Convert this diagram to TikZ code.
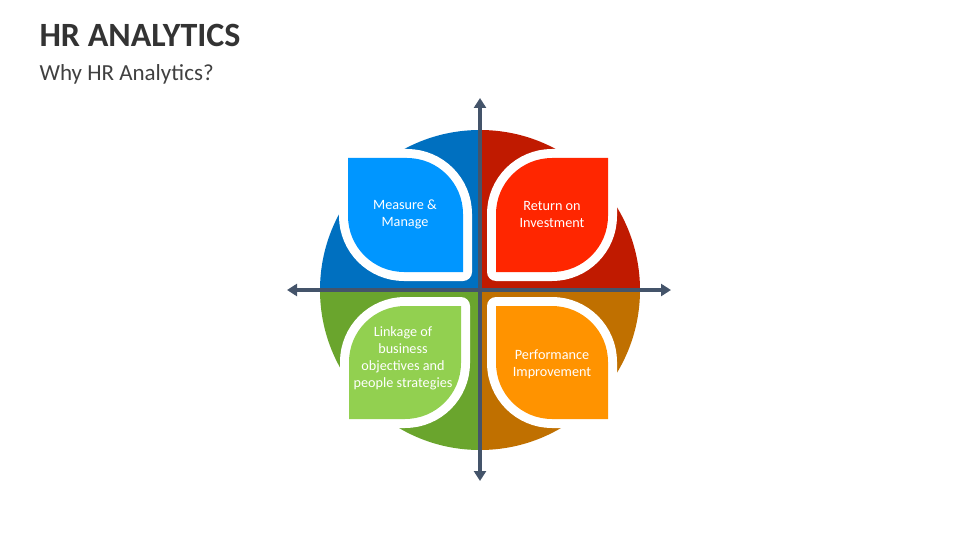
\documentclass[tikz,border=0pt]{standalone}
\usepackage{fontspec}
\setmainfont{Carlito}
\usetikzlibrary{arrows.meta}
\definecolor{bD}{HTML}{0070C0}\definecolor{bL}{HTML}{0096FF}
\definecolor{rD}{HTML}{C01A00}\definecolor{rL}{HTML}{FF2600}
\definecolor{oD}{HTML}{C07000}\definecolor{oL}{HTML}{FF9300}
\definecolor{gD}{HTML}{6AA52D}\definecolor{gL}{HTML}{92D050}
\definecolor{ax}{HTML}{44546A}
\tikzset{
 leafw/.style={draw=white,line width=18pt,line join=round},
 leaff/.style={},
 lbl/.style={text=white,font=\fontsize{14.2}{17}\selectfont,align=center},
 axis/.style={ax,line width=4pt,-{Triangle[length=10pt,width=12pt]}}}
\def\R{56}
% TR & BL rounded
\newcommand\leafA[5]{\path[#5] (#1,#2) -- ({#3-\R},#2) arc[start angle=-90,end angle=0,radius=\R] -- (#3,#4) -- ({#1+\R},#4) arc[start angle=90,end angle=180,radius=\R] -- cycle;}
% TL & BR rounded
\newcommand\leafB[5]{\path[#5] (#1,{#2+\R}) arc[start angle=180,end angle=270,radius=\R] -- (#3,#2) -- (#3,{#4-\R}) arc[start angle=0,end angle=90,radius=\R] -- (#1,#4) -- cycle;}
\begin{document}
\begin{tikzpicture}[x=1pt,y=-1pt]
\useasboundingbox (0,0) rectangle (960,540);
\node[anchor=west,font=\fontsize{34}{38}\selectfont\bfseries,text=black!80] (t) at (36,35) {HR ANALYTICS};
\node[anchor=west,font=\fontsize{23}{26}\selectfont,text=black!75] (s) at (36,74) {Why HR Analytics?};
\begin{scope}
\clip (480,290) circle (160);
\fill[bD] (300,110) rectangle (480,290);
\fill[rD] (480,110) rectangle (660,290);
\fill[gD] (300,290) rectangle (480,470);
\fill[oD] (480,290) rectangle (660,470);
\end{scope}
\leafA{348}{158}{463}{272}{leafw}
\leafB{496}{158}{608}{272}{leafw}
\leafB{349}{306}{461}{419}{leafw}
\leafA{496}{306}{608}{419}{leafw}
\leafA{348}{158}{463}{272}{leaff,fill=bL}
\leafB{496}{158}{608}{272}{leaff,fill=rL}
\leafB{349}{306}{461}{419}{leaff,fill=gL}
\leafA{496}{306}{608}{419}{leaff,fill=oL}
\coordinate (c) at (480,290);
\coordinate (up) at (480,98);\coordinate (dn) at (480,481);
\coordinate (lf) at (287,290);\coordinate (rt) at (671,290);
\draw[axis] (c) -- (up); \draw[axis] (c) -- (dn);
\draw[axis] (c) -- (lf); \draw[axis] (c) -- (rt);
\node[lbl] (m) at (405,214) {Measure \&\\Manage};
\node[lbl] (r) at (552,214) {Return on\\Investment};
\node[lbl] (l) at (403,358) {Linkage of\\business\\objectives and\\people strategies};
\node[lbl] (p) at (552,364) {Performance\\Improvement};
\end{tikzpicture}
\end{document}
